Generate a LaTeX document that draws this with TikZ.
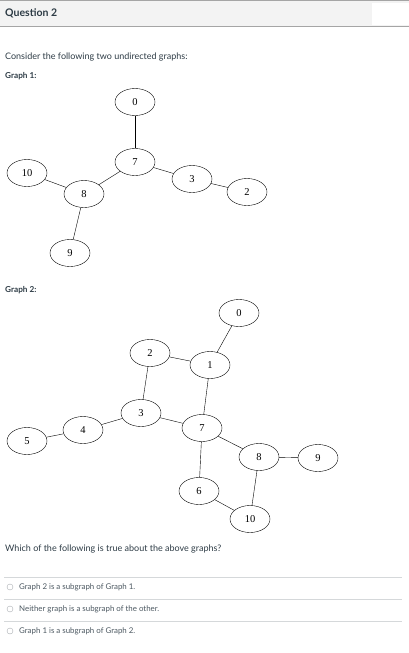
\documentclass[tikz,border=0pt]{standalone}
\usepackage{fontspec}
\setmainfont{Lato}
\newfontfamily\graphfont{Liberation Serif}
\usepackage{xcolor}
\definecolor{textcol}{HTML}{2D3B45}
\definecolor{headbg}{HTML}{F3F3F3}
\definecolor{headline}{HTML}{A5A5A5}
\definecolor{rulecol}{HTML}{D5D8DA}
\definecolor{radiocol}{HTML}{A8ADB1}
\usepackage{tikz}
\usetikzlibrary{shapes.geometric}

\begin{document}
\begin{tikzpicture}[x=1pt, y=-1pt,
  vert/.style={ellipse, draw, thin, minimum width=40pt, minimum height=27pt, inner sep=0pt, font=\graphfont\fontsize{10.5}{11}\selectfont},
  edge/.style={thin},
  txt/.style={anchor=west, inner sep=0pt, text=textcol, font=\fontsize{9}{10}\selectfont},
  opt/.style={anchor=west, inner sep=0pt, text=textcol!85, font=\fontsize{7.9}{9}\selectfont}]
  \useasboundingbox (0,0) rectangle (409,653);

  % header
  \fill[headbg] (0,1) rectangle (409,26.5);
  \fill[white] (372,2.5) rectangle (409,25);
  \draw[headline, line width=1.2pt] (0,0.6) -- (409,0.6);
  \draw[headline, line width=1.2pt] (0,26.8) -- (409,26.8);
  \node[txt, font=\bfseries\fontsize{10.5}{11}\selectfont] (title) at (5,13.5) {Question 2};

  \node[txt] (intro) at (5,57) {Consider the following two undirected graphs:};
  \node[txt, font=\bfseries\fontsize{8.2}{9}\selectfont] (g1label) at (5,76) {Graph 1:};

  % Graph 1
  \node[vert] (a0) at (135,102) {0};
  \node[vert] (a7) at (135,162) {7};
  \node[vert] (a3) at (192,179) {3};
  \node[vert] (a2) at (247,192) {2};
  \node[vert] (a10) at (27,173) {10};
  \node[vert] (a8) at (84,194) {8};
  \node[vert] (a9) at (70,253) {9};
  \draw[edge] (a0) -- (a7);
  \draw[edge] (a7) -- (a3);
  \draw[edge] (a3) -- (a2);
  \draw[edge] (a7) -- (a8);
  \draw[edge] (a10) -- (a8);
  \draw[edge] (a8) -- (a9);

  \node[txt, font=\bfseries\fontsize{8.2}{9}\selectfont] (g2label) at (5,290) {Graph 2:};

  % Graph 2
  \node[vert] (b0) at (239,313) {0};
  \node[vert] (b2) at (150,353) {2};
  \node[vert] (b1) at (210,365) {1};
  \node[vert] (b3) at (141,413) {3};
  \node[vert] (b4) at (83,430) {4};
  \node[vert] (b5) at (27,441) {5};
  \node[vert] (b7) at (202,428) {7};
  \node[vert] (b8) at (259,457) {8};
  \node[vert] (b9) at (318,458) {9};
  \node[vert] (b6) at (199,491) {6};
  \node[vert] (b10) at (250,519) {10};
  \draw[edge] (b0) -- (b1);
  \draw[edge] (b2) -- (b1);
  \draw[edge] (b2) -- (b3);
  \draw[edge] (b1) -- (b7);
  \draw[edge] (b3) -- (b4);
  \draw[edge] (b4) -- (b5);
  \draw[edge] (b3) -- (b7);
  \draw[edge] (b7) -- (b8);
  \draw[edge] (b8) -- (b9);
  \draw[edge] (b7) -- (b6);
  \draw[edge] (b8) -- (b10);
  \draw[edge] (b6) -- (b10);

  \node[txt] (question) at (5,549) {Which of the following is true about the above graphs?};

  % answers
  \foreach \y in {577,599,621}
    \draw[rulecol, line width=0.7pt] (4,\y) -- (402,\y);
  \node[circle, draw=radiocol, thin, minimum size=6pt, inner sep=0pt] (r1) at (10,587) {};
  \node[opt] (o1) at (19,587) {Graph 2 is a subgraph of Graph 1.};
  \node[circle, draw=radiocol, thin, minimum size=6pt, inner sep=0pt] (r2) at (10,609) {};
  \node[opt] (o2) at (19,609) {Neither graph is a subgraph of the other.};
  \node[circle, draw=radiocol, thin, minimum size=6pt, inner sep=0pt] (r3) at (10,631) {};
  \node[opt] (o3) at (19,631) {Graph 1 is a subgraph of Graph 2.};
\end{tikzpicture}
\end{document}
